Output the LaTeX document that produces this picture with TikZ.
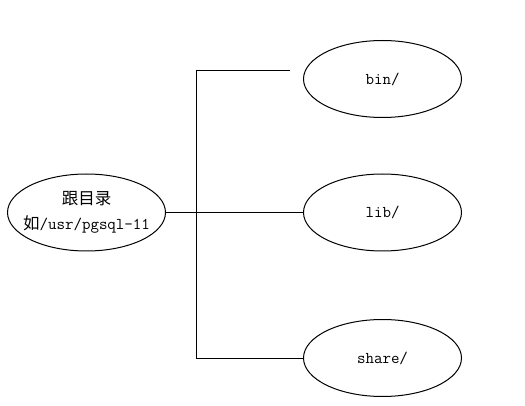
\documentclass[tikz,border=0pt]{standalone}
\usepackage{fontspec}
\newfontfamily\cjk{Noto Sans CJK SC}
\usepackage{tikz}
\usetikzlibrary{shapes.geometric}

\tikzset{
	dirnode/.style={draw,ellipse,line width=1pt,minimum width=158pt,minimum height=77pt,inner sep=0pt,align=center,font=\fontsize{16.5}{25}\selectfont\ttfamily},
	branch/.style={line width=0.9pt}
}
\newcommand{\nowd}[1]{\makebox[0pt]{#1}}

\begin{document}
\begin{tikzpicture}[x=1pt,y=-1pt]
		\useasboundingbox (0,0) rectangle (525,406);
		\node[dirnode] (root) at (86.5,212.5) {\nowd{\cjk 跟目录}\\\nowd{{\cjk 如}/usr/pgsql-11}};
		\node[dirnode] (bin) at (382.5,79) {bin/};
		\node[dirnode] (lib) at (382.5,212.5) {lib/};
		\node[dirnode] (share) at (382.5,358) {share/};
		%
		\coordinate (trunkTop) at (196.5,70.5);
		\coordinate (trunkBot) at (196.5,358);
		\coordinate (binEnd) at (290,70.5);
		%
		\path[draw,branch]
		(root) -- (lib)
		(binEnd) -- (trunkTop) -- (trunkBot) -- (share);
		\end{tikzpicture}
\end{document}
